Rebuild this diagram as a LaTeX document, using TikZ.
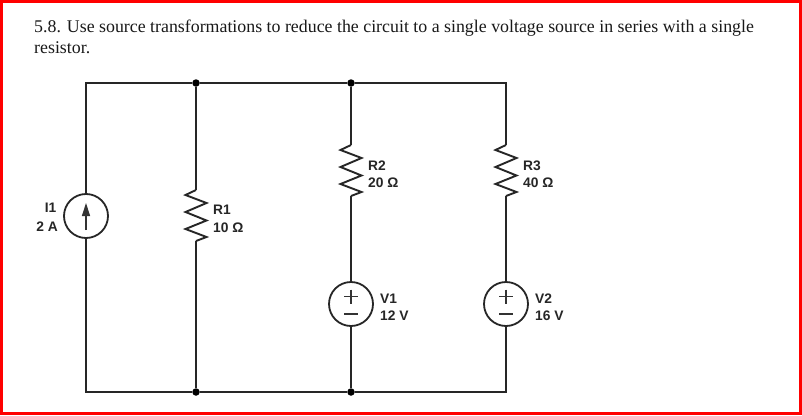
\documentclass[tikz,border=0pt]{standalone}
\usepackage{fontspec}
\setmainfont{Liberation Serif}
\newfontfamily\cirfont{Liberation Sans}
\usetikzlibrary{arrows.meta}
\tikzset{
  x=1pt,y=-1pt,
  wire/.style={line width=1.9pt,color=black!85,line join=miter},
  thinwire/.style={line width=1.3pt,color=black!80},
  junction/.style={circle,fill=black,inner sep=0pt,minimum size=7.5pt},
  source/.style={circle,draw=black!85,line width=1.8pt,inner sep=0pt,minimum size=44pt,fill=white},
  problem/.style={anchor=base west,inner sep=0pt,font=\fontsize{17.85}{20}\selectfont,color=black!90},
  clabel/.style={anchor=base west,inner sep=0pt,font=\cirfont\bfseries\fontsize{13.8}{15}\selectfont,color=black!85},
  clabelr/.style={clabel,anchor=base east},
  pics/zigzag/.style={code={
    \draw[wire] (0,0) coordinate (-top) -- (-10.5,5) -- (10.5,13) -- (-10.5,22) -- (10.5,30.5) -- (-10.5,39) -- (10.5,47) -- (0,51) coordinate (-bot);
  }}
}
\begin{document}
\begin{tikzpicture}
\useasboundingbox (0,0) rectangle (802,415);
\fill[white] (0,0) rectangle (802,415);
\draw[red,line width=3pt] (1.5,1.5) rectangle (800.5,413.5);

\node[problem] (line1) at (34,32) {5.8. Use source transformations to reduce the circuit to a single voltage source in series with a single};
\node[problem] (line2) at (34,53) {resistor.};

% corners and junctions
\coordinate (tl) at (86,83);
\coordinate (bl) at (86,392);
\coordinate (tr) at (506,83);
\coordinate (br) at (506,392);
\node[junction] (t1) at (196,83) {};
\node[junction] (b1) at (196,392) {};
\node[junction] (t2) at (351,83) {};
\node[junction] (b2) at (351,392) {};

% sources
\node[source] (I1) at (86,216) {};
\node[source] (V1) at (351,304) {};
\node[source] (V2) at (506,304) {};

% resistors
\pic (R1) at (196,190) {zigzag};
\pic (R2) at (351,145) {zigzag};
\pic (R3) at (506,145) {zigzag};

% wires
\draw[wire] (I1) -- (tl) -- (t1) -- (t2) -- (tr) -- (R3-top);
\draw[wire] (I1) -- (bl) -- (b1) -- (b2) -- (br) -- (V2);
\draw[wire] (t1) -- (R1-top);
\draw[wire] (R1-bot) -- (b1);
\draw[wire] (t2) -- (R2-top);
\draw[wire] (R2-bot) -- (V1);
\draw[wire] (V1) -- (b2);
\draw[wire] (R3-bot) -- (V2);

% source symbols
\coordinate (I1a) at (86,230);
\coordinate (I1b) at (86,203);
\draw[thinwire,-{Triangle[length=13pt,width=8pt]}] (I1a) -- (I1b);
\foreach \s/\x in {V1/351,V2/506}{
  \draw[thinwire] (\x-7,296.7) -- (\x+7,296.7) (\x,289.7) -- (\x,303.7);
  \draw[thinwire] (\x-7,314) -- (\x+7,314);
}

% labels
\node[clabelr] (I1l) at (56.5,212.2) {I1};
\node[clabelr] (I1v) at (58,231.2) {2 A};
\node[clabel] (R1l) at (213,214.2) {R1};
\node[clabel] (R1v) at (213,232.2) {10 Ω};
\node[clabel] (R2l) at (368,170.2) {R2};
\node[clabel] (R2v) at (368,187.2) {20 Ω};
\node[clabel] (R3l) at (523,170.2) {R3};
\node[clabel] (R3v) at (523,187.2) {40 Ω};
\node[clabel] (V1l) at (380,303) {V1};
\node[clabel] (V1v) at (380,320) {12 V};
\node[clabel] (V2l) at (535,303) {V2};
\node[clabel] (V2v) at (535,320) {16 V};
\end{tikzpicture}
\end{document}
